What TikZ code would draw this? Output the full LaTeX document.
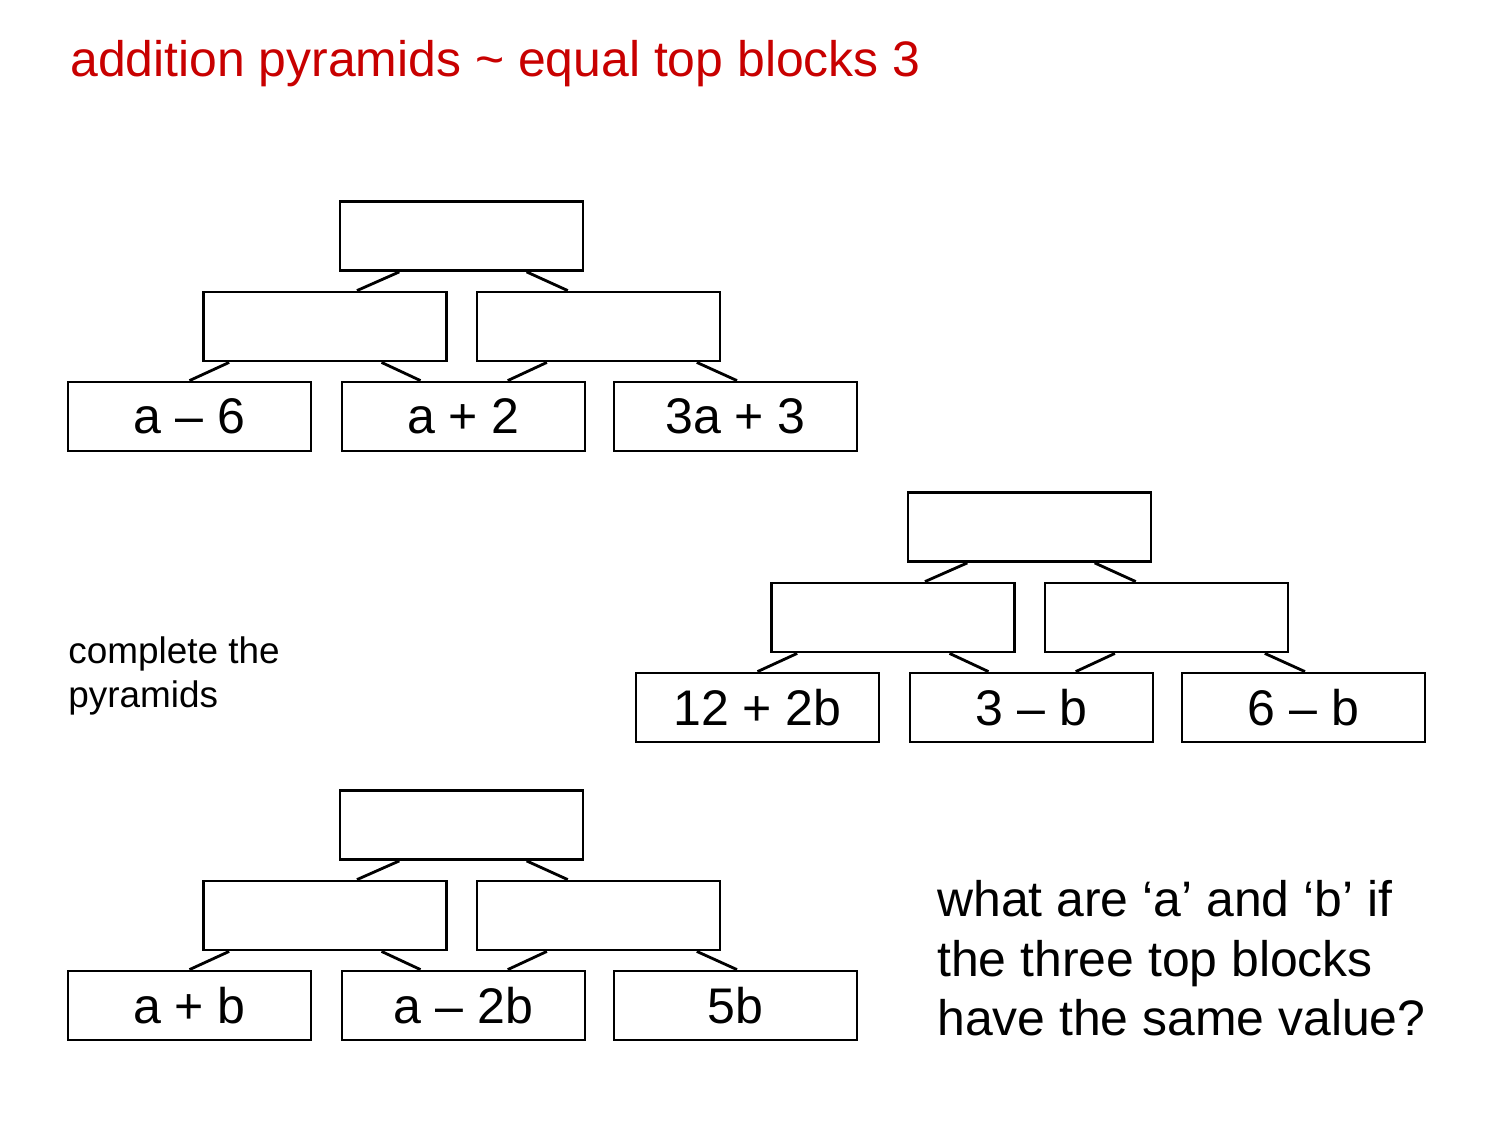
\documentclass[tikz,border=0pt]{standalone}
\usepackage{fontspec}
\setmainfont{Liberation Sans}
\usetikzlibrary{calc}
\definecolor{titlered}{RGB}{200,0,0}
\tikzset{box/.style={draw,line width=1.6pt,minimum width=4.86cm,minimum height=1.38cm,inner sep=0pt,font=\fontsize{28.5}{32}\selectfont},
 lnk/.style={line width=1.6pt}}
\newcommand\pyr[6]{% x offset, y offset, prefix, labels
 \begin{scope}[shift={(#1,#2)}]
 \node[box] (#3t) at (461.5,-236) {};
 \node[box] (#3l) at (325,-326.5) {};
 \node[box] (#3r) at (598.5,-326.5) {};
 \node[box] (#3a) at (189.5,-416.5) {#4};
 \node[box] (#3b) at (463.5,-416.5) {#5};
 \node[box] (#3c) at (735.5,-416.5) {#6};
 \end{scope}
 \draw[lnk] ($(#3t.south west)!0.247!(#3t.south east)$) -- ($(#3l.north west)!0.63!(#3l.north east)$);
 \draw[lnk] ($(#3t.south west)!0.765!(#3t.south east)$) -- ($(#3r.north west)!0.375!(#3r.north east)$);
 \draw[lnk] ($(#3l.south west)!0.11!(#3l.south east)$) -- ($(#3a.north west)!0.5!(#3a.north east)$);
 \draw[lnk] ($(#3l.south west)!0.73!(#3l.south east)$) -- ($(#3b.north west)!0.325!(#3b.north east)$);
 \draw[lnk] ($(#3r.south west)!0.29!(#3r.south east)$) -- ($(#3b.north west)!0.68!(#3b.north east)$);
 \draw[lnk] ($(#3r.south west)!0.9!(#3r.south east)$) -- ($(#3c.north west)!0.506!(#3c.north east)$);
}
\begin{document}
\begin{tikzpicture}[x=0.02cm,y=0.02cm]
\useasboundingbox (0,0) rectangle (1500,-1125);
\node[anchor=west,text=titlered,font=\fontsize{28.4}{32}\selectfont,inner sep=0pt] (title) at (70,-64) {addition pyramids \textasciitilde{} equal top blocks 3};
\pyr{0}{0}{p}{a – 6}{a + 2}{3a + 3}
\pyr{568}{-291}{q}{12 + 2b}{3 – b}{6 – b}
\pyr{0}{-589}{s}{a + b}{a – 2b}{5b}
\node[anchor=north west,align=left,font=\fontsize{21}{25.5}\selectfont,inner sep=0pt] (cp) at (68,-636) {complete the\\pyramids};
\node[anchor=north west,align=left,font=\fontsize{28.4}{34}\selectfont,inner sep=0pt] (q) at (937,-880) {what are ‘a’ and ‘b’ if\\the three top blocks\\have the same value?};
\end{tikzpicture}
\end{document}
